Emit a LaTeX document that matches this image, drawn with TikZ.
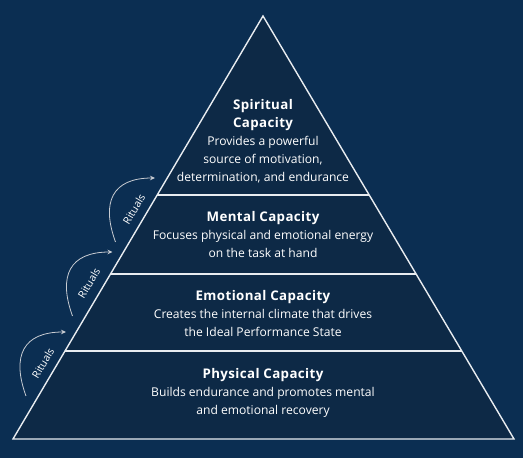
\documentclass[tikz,border=0pt]{standalone}
\usepackage{fontspec}
\setmainfont{Open Sans}
\newfontfamily\titlefont[LetterSpace=3]{Open Sans}
\usetikzlibrary{arrows.meta,calc}
\definecolor{bgblue}{HTML}{0B2E52}
\definecolor{tierfill}{HTML}{0D2946}
\definecolor{linew}{HTML}{E8ECF0}
\definecolor{arcgray}{HTML}{C8CCD2}
\tikzset{
  tiertext/.style={text=white, align=center, font=\fontsize{12.1}{18}\selectfont},
  ritual/.style={text=white, font=\fontsize{10.5}{12}\selectfont, rotate=59},
  ritualarc/.style={draw=arcgray, line width=0.8pt, -{Stealth[length=5pt,width=4.5pt]}, out=110, in=180, looseness=1.45},
  tierline/.style={draw=linew, line width=1.6pt},
}
\newcommand{\ttl}[1]{{\titlefont\fontsize{13.3}{18}\selectfont\bfseries #1}}
\begin{document}
\begin{tikzpicture}[x=1pt,y=1pt]
\fill[bgblue] (0,0) rectangle (523,458);
\useasboundingbox (0,0) rectangle (523,458);
\coordinate (A) at (263,442);
\coordinate (L) at (13,19);
\coordinate (R) at (514,19);
\fill[tierfill] (A) -- (L) -- (R) -- cycle;
% tier separators
\coordinate (l1) at ($(L)!0.208!(A)$);
\coordinate (r1) at ($(R)!0.208!(A)$);
\coordinate (l2) at ($(L)!0.390!(A)$);
\coordinate (r2) at ($(R)!0.390!(A)$);
\coordinate (l3) at ($(L)!0.577!(A)$);
\coordinate (r3) at ($(R)!0.577!(A)$);
\draw[tierline] (l1) -- (r1);
\draw[tierline] (l2) -- (r2);
\draw[tierline] (l3) -- (r3);
\draw[draw=linew, line width=1.4pt, line join=miter] (A) -- (L) -- (R) -- cycle;
% texts
\node[tiertext] (spiritual) at (263,317) {\ttl{Spiritual}\\\ttl{Capacity}\\Provides a powerful\\source of motivation,\\determination, and endurance};
\node[tiertext] (mental) at (263,223) {\ttl{Mental Capacity}\\Focuses physical and emotional energy\\on the task at hand};
\node[tiertext] (emotional) at (263,144) {\ttl{Emotional Capacity}\\Creates the internal climate that drives\\the Ideal Performance State};
\node[tiertext] (physical) at (263,65) {\ttl{Physical Capacity}\\Builds endurance and promotes mental\\and emotional recovery};
% rituals arcs
\coordinate (s1) at (26,62);   \coordinate (e1) at (66,126);
\coordinate (s2) at (72.5,142); \coordinate (e2) at (112.5,206);
\coordinate (s3) at (115.5,216); \coordinate (e3) at (155,280);
\draw[ritualarc] (s1) to (e1);
\draw[ritualarc] (s2) to (e2);
\draw[ritualarc] (s3) to (e3);
\node[ritual] (r1lab) at (43,95) {Rituals};
\node[ritual] (r2lab) at (89,175) {Rituals};
\node[ritual] (r3lab) at (134,249) {Rituals};
\end{tikzpicture}
\end{document}
